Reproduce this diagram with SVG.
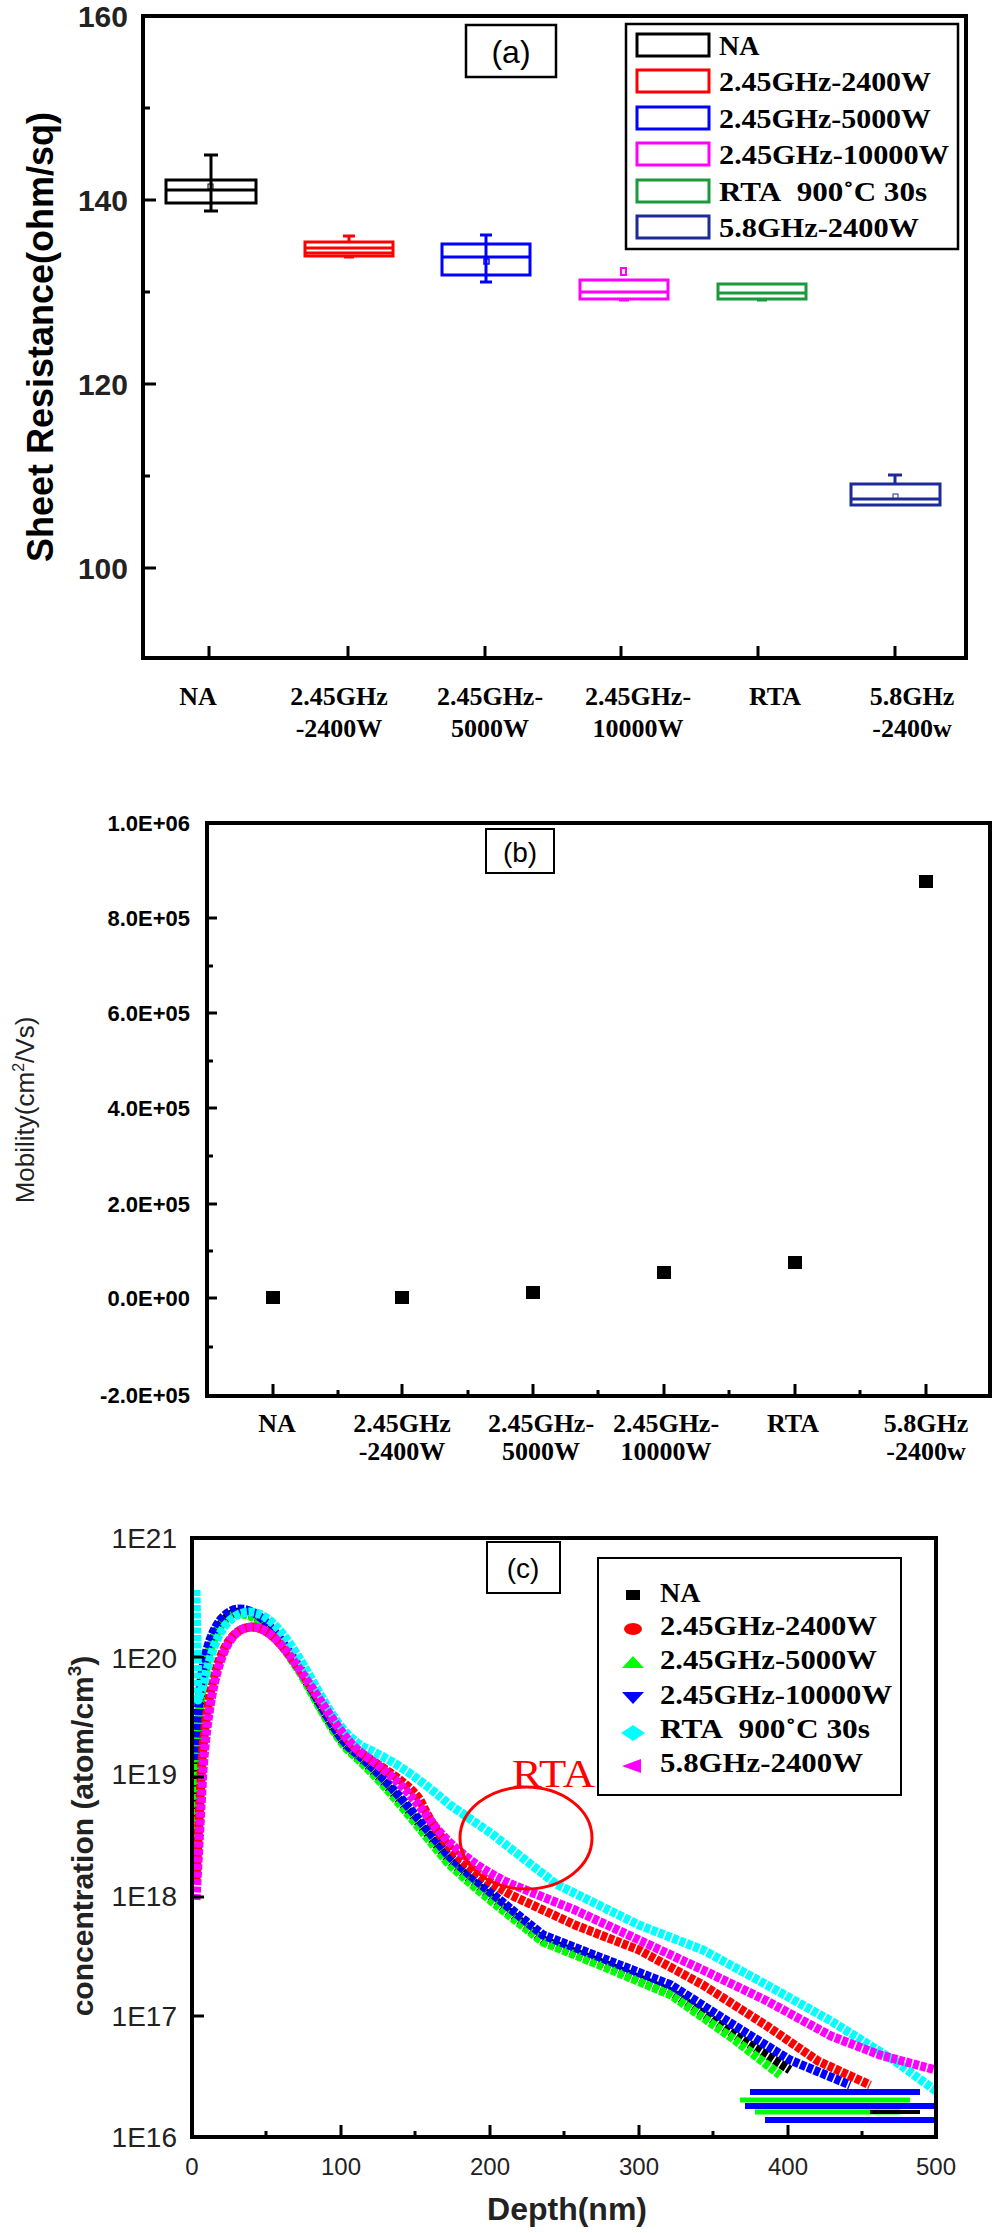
<svg xmlns="http://www.w3.org/2000/svg" width="997" height="2233" viewBox="0 0 997 2233">
<style>
.sans{font-family:"Liberation Sans",Arial,sans-serif}
.frame{fill:none;stroke:#000;stroke-width:4}
.tk{stroke:#000;stroke-width:3}
.bx{fill:none;stroke-width:3}
.lg{font-family:"Liberation Serif","Times New Roman",serif;font-weight:bold;font-size:28px}
.xl{font-family:"Liberation Serif","Times New Roman",serif;font-weight:bold;font-size:26px;text-anchor:middle}
.cv{fill:none;stroke-width:9;stroke-dasharray:6 1.5;stroke-linejoin:round}
</style>
<rect width="997" height="2233" fill="#fff"/>
<!-- Panel a -->
<g id="panel-a">
<rect class="frame" x="143" y="16" width="823" height="642"/>
<g class="sans" font-size="30" text-anchor="end" fill="#222" font-weight="bold">
<text x="128" y="27">160</text><text x="128" y="211">140</text><text x="128" y="395">120</text><text x="128" y="579">100</text>
</g>
<g class="tk"><line x1="143" y1="200" x2="156" y2="200"/><line x1="143" y1="384" x2="156" y2="384"/><line x1="143" y1="568" x2="156" y2="568"/><line x1="143" y1="108" x2="150" y2="108"/><line x1="143" y1="292" x2="150" y2="292"/><line x1="143" y1="476" x2="150" y2="476"/>
<line x1="209" y1="658" x2="209" y2="646"/><line x1="348" y1="658" x2="348" y2="646"/><line x1="485" y1="658" x2="485" y2="646"/><line x1="621" y1="658" x2="621" y2="646"/><line x1="758" y1="658" x2="758" y2="646"/><line x1="895" y1="658" x2="895" y2="646"/></g>
<text class="sans" font-size="36" font-weight="bold" transform="translate(53,337) rotate(-90)" text-anchor="middle">Sheet Resistance(ohm/sq)</text>
<g id="label-a"><rect x="466" y="25" width="90" height="52" fill="#fff" stroke="#000" stroke-width="2.5"/><text class="sans" x="511" y="63" font-size="32" text-anchor="middle">(a)</text></g>
<g id="box-na" stroke="#000"><line class="bx" x1="211" y1="155" x2="211" y2="211"/><line class="bx" x1="204" y1="155" x2="218" y2="155"/><line class="bx" x1="204" y1="211" x2="218" y2="211"/><rect class="bx" x="166" y="180" width="90" height="23" fill="#fff"/><line class="bx" x1="166" y1="190" x2="256" y2="190"/><rect x="208" y="184" width="5" height="5" fill="none" stroke-width="1"/></g>
<g id="box-2400" stroke="#f00"><line class="bx" x1="349" y1="236" x2="349" y2="242"/><line class="bx" x1="343" y1="236" x2="355" y2="236"/><rect class="bx" x="305" y="242" width="88" height="14" fill="#fff"/><line class="bx" x1="305" y1="248" x2="393" y2="248"/><line class="bx" x1="305" y1="253" x2="393" y2="253"/><line class="bx" x1="344" y1="257" x2="354" y2="257"/></g>
<g id="box-5000" stroke="#00f"><line class="bx" x1="486" y1="235" x2="486" y2="282"/><line class="bx" x1="480" y1="235" x2="492" y2="235"/><line class="bx" x1="480" y1="282" x2="492" y2="282"/><rect class="bx" x="442" y="244" width="88" height="31" fill="#fff"/><line class="bx" x1="442" y1="257" x2="530" y2="257"/><rect x="484" y="259" width="5" height="5" fill="none" stroke-width="1.5"/></g>
<g id="box-10000" stroke="#f0f"><rect class="bx" x="580" y="280" width="88" height="19" fill="#fff"/><line class="bx" x1="580" y1="292" x2="668" y2="292"/><line class="bx" x1="619" y1="300" x2="629" y2="300"/><rect x="621" y="268" width="5" height="7" fill="none" stroke-width="2"/></g>
<g id="box-rta" stroke="#1a9a3a"><rect class="bx" x="718" y="284" width="88" height="15" fill="#fff"/><line class="bx" x1="718" y1="293" x2="806" y2="293"/><line class="bx" x1="757" y1="300" x2="767" y2="300"/></g>
<g id="box-58" stroke="#1c2a9a"><line class="bx" x1="895" y1="475" x2="895" y2="484"/><line class="bx" x1="888" y1="475" x2="902" y2="475"/><rect class="bx" x="851" y="484" width="89" height="21" fill="#fff"/><line class="bx" x1="851" y1="499" x2="940" y2="499"/><rect x="893" y="494" width="5" height="5" fill="none" stroke-width="1"/></g>
<g id="legend-a">
<rect x="626" y="24" width="332" height="225" fill="#fff" stroke="#000" stroke-width="2.5"/>
<rect class="bx" x="637" y="34" width="72" height="22" stroke="#000"/><text class="lg" x="719" y="55">NA</text>
<rect class="bx" x="637" y="70" width="72" height="22" stroke="#f00"/><text class="lg" x="719" y="91" textLength="212" lengthAdjust="spacingAndGlyphs">2.45GHz-2400W</text>
<rect class="bx" x="637" y="107" width="72" height="22" stroke="#00f"/><text class="lg" x="719" y="128" textLength="212" lengthAdjust="spacingAndGlyphs">2.45GHz-5000W</text>
<rect class="bx" x="637" y="143" width="72" height="22" stroke="#f0f"/><text class="lg" x="719" y="164" textLength="230" lengthAdjust="spacingAndGlyphs">2.45GHz-10000W</text>
<rect class="bx" x="637" y="180" width="72" height="22" stroke="#1a9a3a"/><text class="lg" x="719" y="201" textLength="208" lengthAdjust="spacingAndGlyphs">RTA&#160; 900˚C 30s</text>
<rect class="bx" x="637" y="216" width="72" height="22" stroke="#1c2a9a"/><text class="lg" x="719" y="237" textLength="200" lengthAdjust="spacingAndGlyphs">5.8GHz-2400W</text>
</g>
<g class="xl"><text x="198" y="705">NA</text><text x="339" y="705">2.45GHz</text><text x="339" y="737">-2400W</text><text x="490" y="705">2.45GHz-</text><text x="490" y="737">5000W</text><text x="638" y="705">2.45GHz-</text><text x="638" y="737">10000W</text><text x="775" y="705">RTA</text><text x="912" y="705">5.8GHz</text><text x="912" y="737">-2400w</text></g>
</g>
<!-- Panel b -->
<g id="panel-b">
<rect class="frame" x="207" y="823" width="783" height="573"/>
<g class="sans" font-size="22" font-weight="bold" text-anchor="end"><text x="190" y="831">1.0E+06</text><text x="190" y="926">8.0E+05</text><text x="190" y="1021">6.0E+05</text><text x="190" y="1116">4.0E+05</text><text x="190" y="1212">2.0E+05</text><text x="190" y="1306">0.0E+00</text><text x="190" y="1403">-2.0E+05</text></g>
<g class="tk"><line x1="207" y1="918" x2="217" y2="918"/><line x1="207" y1="1013" x2="217" y2="1013"/><line x1="207" y1="1108" x2="217" y2="1108"/><line x1="207" y1="1204" x2="217" y2="1204"/><line x1="207" y1="1298" x2="217" y2="1298"/>
<line x1="207" y1="966" x2="213" y2="966"/><line x1="207" y1="1061" x2="213" y2="1061"/><line x1="207" y1="1156" x2="213" y2="1156"/><line x1="207" y1="1251" x2="213" y2="1251"/><line x1="207" y1="1347" x2="213" y2="1347"/>
<line x1="273" y1="1396" x2="273" y2="1384"/><line x1="402" y1="1396" x2="402" y2="1384"/><line x1="533" y1="1396" x2="533" y2="1384"/><line x1="664" y1="1396" x2="664" y2="1384"/><line x1="795" y1="1396" x2="795" y2="1384"/><line x1="926" y1="1396" x2="926" y2="1384"/>
<line x1="338" y1="1396" x2="338" y2="1390"/><line x1="468" y1="1396" x2="468" y2="1390"/><line x1="598" y1="1396" x2="598" y2="1390"/><line x1="729" y1="1396" x2="729" y2="1390"/><line x1="860" y1="1396" x2="860" y2="1390"/></g>
<text class="sans" font-size="26" fill="#222" transform="translate(34,1110) rotate(-90)" text-anchor="middle">Mobility(cm<tspan font-size="16" dy="-10">2</tspan><tspan dy="10">/Vs)</tspan></text>
<g id="label-b"><rect x="486" y="829" width="68" height="44" fill="#fff" stroke="#000" stroke-width="2"/><text class="sans" x="520" y="862" font-size="28" text-anchor="middle">(b)</text></g>
<g fill="#000"><rect x="266" y="1291" width="14" height="13"/><rect x="395" y="1291" width="14" height="13"/><rect x="526" y="1286" width="14" height="13"/><rect x="657" y="1266" width="14" height="13"/><rect x="788" y="1256" width="14" height="13"/><rect x="919" y="875" width="14" height="13"/></g>
<g class="xl" font-size="24"><text x="277" y="1432">NA</text><text x="402" y="1432">2.45GHz</text><text x="402" y="1460">-2400W</text><text x="541" y="1432">2.45GHz-</text><text x="541" y="1460">5000W</text><text x="666" y="1432">2.45GHz-</text><text x="666" y="1460">10000W</text><text x="793" y="1432">RTA</text><text x="926" y="1432">5.8GHz</text><text x="926" y="1460">-2400w</text></g>
</g>
<!-- Panel c -->
<g id="panel-c">
<g id="curves">
<line x1="750" y1="2092" x2="920" y2="2092" stroke="#00f" stroke-width="6"/>
<line x1="740" y1="2100" x2="910" y2="2100" stroke="#0f0" stroke-width="5"/>
<line x1="745" y1="2106" x2="935" y2="2106" stroke="#00f" stroke-width="6"/>
<line x1="755" y1="2112" x2="900" y2="2112" stroke="#0f0" stroke-width="5"/>
<line x1="765" y1="2120" x2="936" y2="2120" stroke="#00f" stroke-width="6"/>
<line x1="870" y1="2112" x2="920" y2="2112" stroke="#000" stroke-width="4"/>
<path class="cv" stroke="#000" d="M196,1820 L199,1720 C205,1630 225,1612 240,1612 C262,1612 280,1640 300,1670 C320,1705 335,1735 350,1750 C380,1775 400,1800 447,1858 C470,1880 492,1898 543,1940 L607,1965 L671,1992 L735,2035 L790,2070"/>
<path class="cv" stroke="#0f0" stroke-width="14" d="M196,1860 L199,1720 C205,1632 225,1614 240,1614 C262,1614 280,1642 300,1672 C320,1707 335,1737 350,1752 C380,1778 400,1804 447,1862 C470,1884 492,1902 543,1942 L607,1968 L671,1995 L735,2040 L780,2075"/>
<path class="cv" stroke="#00f" stroke-width="14" d="M196,1760 L199,1700 C205,1625 225,1609 240,1609 C262,1609 280,1638 300,1668 C320,1703 335,1733 350,1748 C380,1772 400,1796 447,1854 C470,1876 492,1894 543,1935 L607,1960 L671,1985 L735,2026 L790,2060 L850,2085"/>
<path class="cv" stroke="#f00" d="M196,1880 L202,1760 C210,1650 232,1627 252,1627 C272,1627 290,1655 310,1685 C330,1715 345,1740 360,1752 C385,1770 409,1783 420,1800 C435,1830 450,1860 511,1895 L575,1925 L639,1950 L703,1985 L767,2026 L818,2061 L870,2085"/>
<path class="cv" stroke="#0ff" d="M196,1590 L198,1700 L205,1680 C215,1628 232,1612 250,1612 C272,1612 292,1645 312,1680 C330,1712 345,1740 370,1750 C390,1760 409,1770 450,1805 L492,1834 L556,1884 L639,1925 L703,1950 L767,1985 L831,2021 L895,2061 L936,2091"/>
<path class="cv" stroke="#f0f" d="M196,1900 L203,1770 C212,1650 232,1627 252,1627 C272,1627 290,1655 310,1685 C330,1715 345,1740 360,1752 C385,1770 405,1785 430,1820 C445,1840 470,1865 511,1884 L575,1910 L639,1940 L703,1970 L767,2001 L831,2036 L880,2055 L936,2070"/>
</g>
<rect class="frame" x="192" y="1538" width="744" height="599" stroke-width="3"/>
<g class="sans" font-size="28" text-anchor="end" fill="#222"><text x="177" y="1548">1E21</text><text x="177" y="1668">1E20</text><text x="177" y="1784">1E19</text><text x="177" y="1906">1E18</text><text x="177" y="2026">1E17</text><text x="177" y="2147">1E16</text></g>
<g class="sans" font-size="24" text-anchor="middle" fill="#222"><text x="192" y="2175">0</text><text x="341" y="2175">100</text><text x="490" y="2175">200</text><text x="639" y="2175">300</text><text x="788" y="2175">400</text><text x="936" y="2175">500</text></g>
<g class="tk"><line x1="192" y1="1657" x2="204" y2="1657"/><line x1="192" y1="1777" x2="204" y2="1777"/><line x1="192" y1="1897" x2="204" y2="1897"/><line x1="192" y1="2016" x2="204" y2="2016"/>
<line x1="341" y1="2137" x2="341" y2="2125"/><line x1="490" y1="2137" x2="490" y2="2125"/><line x1="639" y1="2137" x2="639" y2="2125"/><line x1="788" y1="2137" x2="788" y2="2125"/><line x1="266" y1="2137" x2="266" y2="2131"/><line x1="415" y1="2137" x2="415" y2="2131"/><line x1="564" y1="2137" x2="564" y2="2131"/><line x1="713" y1="2137" x2="713" y2="2131"/><line x1="862" y1="2137" x2="862" y2="2131"/></g>
<text class="sans" font-size="30" font-weight="bold" fill="#222" transform="translate(93,1836) rotate(-90)" text-anchor="middle">concentration (atom/cm<tspan font-size="19" dy="-12">3</tspan><tspan dy="12">)</tspan></text>
<text class="sans" x="567" y="2220" font-size="32" font-weight="bold" fill="#222" text-anchor="middle">Depth(nm)</text>
<g id="label-c"><rect x="487" y="1542" width="73" height="51" fill="#fff" stroke="#000" stroke-width="2"/><text class="sans" x="523" y="1578" font-size="28" text-anchor="middle">(c)</text></g>
<g id="legend-c">
<rect x="598" y="1558" width="303" height="237" fill="#fff" stroke="#000" stroke-width="2"/>
<rect x="626" y="1590" width="14" height="10" fill="#000"/><text class="lg" x="660" y="1602">NA</text>
<ellipse cx="633" cy="1629" rx="9" ry="6" fill="#f00"/><text class="lg" x="660" y="1635" textLength="217" lengthAdjust="spacingAndGlyphs">2.45GHz-2400W</text>
<polygon points="622,1668 644,1668 633,1656" fill="#0f0"/><text class="lg" x="660" y="1669" textLength="217" lengthAdjust="spacingAndGlyphs">2.45GHz-5000W</text>
<polygon points="622,1692 644,1692 633,1704" fill="#00f"/><text class="lg" x="660" y="1704" textLength="232" lengthAdjust="spacingAndGlyphs">2.45GHz-10000W</text>
<polygon points="633,1725 645,1733 633,1741 621,1733" fill="#0ff"/><text class="lg" x="660" y="1738" textLength="210" lengthAdjust="spacingAndGlyphs">RTA&#160; 900˚C 30s</text>
<polygon points="641,1759 641,1773 622,1766" fill="#f0f"/><text class="lg" x="660" y="1772" textLength="203" lengthAdjust="spacingAndGlyphs">5.8GHz-2400W</text>
</g>
<text x="512" y="1787" font-family="'Liberation Serif','Times New Roman',serif" font-size="40" fill="#f00" textLength="83" lengthAdjust="spacingAndGlyphs">RTA</text>
<ellipse cx="526" cy="1838" rx="66" ry="51" fill="none" stroke="#f00" stroke-width="3"/>
</g>
</svg>
